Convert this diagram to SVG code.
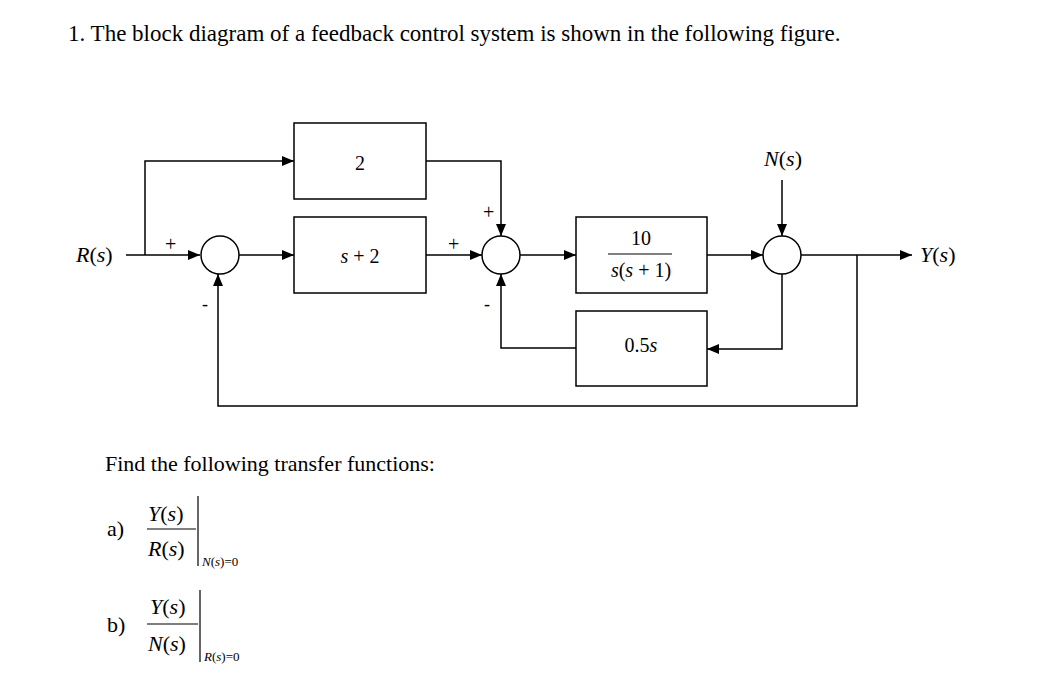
<svg xmlns="http://www.w3.org/2000/svg" width="1044" height="690" viewBox="0 0 1044 690">
<defs>
<marker id="ah" viewBox="0 0 12 10" refX="12" refY="5" markerWidth="12" markerHeight="10" markerUnits="userSpaceOnUse" orient="auto"><path d="M0,0 L12,5 L0,10 z" fill="#000"/></marker>
</defs>
<style>
text{font-family:"Liberation Serif",serif;fill:#000}
.i{font-style:italic}
.b{fill:#fff;stroke:#000;stroke-width:1.5}
.c{fill:none;stroke:#000;stroke-width:1.5}
.a{marker-end:url(#ah)}
</style>
<rect width="1044" height="690" fill="#fff"/>
<text x="68" y="41" font-size="23">1.  The block diagram of a feedback control system is shown in the following figure.</text>
<g id="connectors" class="c">
<path d="M126,255 H200" class="c a"/>
<path d="M145,255 V161 H294" class="c a"/>
<path d="M239,255 H294" class="c a"/>
<path d="M426,161 H501 V236" class="c a"/>
<path d="M426,255 H482" class="c a"/>
<path d="M520,255 H576" class="c a"/>
<path d="M707,255 H763" class="c a"/>
<path d="M782,180 V236" class="c a"/>
<path d="M801,255 H912" class="c a"/>
<path d="M782,274 V349 H707" class="c a"/>
<path d="M576,348 H501 V274" class="c a"/>
<path d="M857,255 V406 H218 V274" class="c a"/>
</g>
<g id="R"><text x="76" y="262" font-size="22" class="i">R<tspan font-style="normal">(</tspan>s<tspan font-style="normal">)</tspan></text></g>
<g id="sum1"><circle cx="220" cy="255" r="19" class="b"/><text x="165" y="251" font-size="20">+</text><text x="202" y="310" font-size="18">-</text></g>
<g id="b2"><rect x="294" y="123" width="132" height="76" class="b"/><text x="360" y="170" font-size="20" text-anchor="middle">2</text></g>
<g id="bs2"><rect x="294" y="217" width="132" height="76" class="b"/><text x="360" y="263" font-size="20" text-anchor="middle"><tspan class="i">s</tspan> + 2</text></g>
<g id="sum2"><circle cx="501" cy="255" r="19" class="b"/><text x="483" y="219" font-size="20">+</text><text x="448" y="251" font-size="20">+</text><text x="484" y="310" font-size="18">-</text></g>
<g id="bG"><rect x="576" y="217" width="131" height="76" class="b"/><text x="641" y="245" font-size="20" text-anchor="middle">10</text><line x1="608" y1="254" x2="672" y2="254" stroke="#000" stroke-width="1.2"/><text x="641" y="277" font-size="20" text-anchor="middle"><tspan class="i">s</tspan>(<tspan class="i">s</tspan> + 1)</text></g>
<g id="bH"><rect x="576" y="311" width="131" height="75" class="b"/><text x="641" y="352" font-size="20" text-anchor="middle">0.5<tspan class="i">s</tspan></text></g>
<g id="sum3"><circle cx="782" cy="255" r="19" class="b"/></g>
<g id="N"><text x="783" y="166" font-size="22" text-anchor="middle"><tspan class="i">N</tspan>(<tspan class="i">s</tspan>)</text></g>
<g id="Y"><text x="920" y="262" font-size="22"><tspan class="i">Y</tspan>(<tspan class="i">s</tspan>)</text></g>
<text x="105" y="471" font-size="22">Find the following transfer functions:</text>
<g id="qa">
<text x="107" y="536" font-size="22">a)</text>
<text x="148" y="521" font-size="22"><tspan class="i">Y</tspan>(<tspan class="i">s</tspan>)</text>
<line x1="147" y1="529" x2="196" y2="529" stroke="#000" stroke-width="1.2"/>
<text x="148" y="556" font-size="22"><tspan class="i">R</tspan>(<tspan class="i">s</tspan>)</text>
<line x1="198" y1="496" x2="198" y2="566" stroke="#000" stroke-width="1.2"/>
<text x="202" y="566" font-size="13"><tspan class="i">N</tspan>(<tspan class="i">s</tspan>)=0</text>
</g>
<g id="qb">
<text x="107" y="632" font-size="22">b)</text>
<text x="150" y="614" font-size="22"><tspan class="i">Y</tspan>(<tspan class="i">s</tspan>)</text>
<line x1="147" y1="624" x2="198" y2="624" stroke="#000" stroke-width="1.2"/>
<text x="148" y="651" font-size="22"><tspan class="i">N</tspan>(<tspan class="i">s</tspan>)</text>
<line x1="200" y1="590" x2="200" y2="662" stroke="#000" stroke-width="1.2"/>
<text x="204" y="661" font-size="13"><tspan class="i">R</tspan>(<tspan class="i">s</tspan>)=0</text>
</g>
</svg>
